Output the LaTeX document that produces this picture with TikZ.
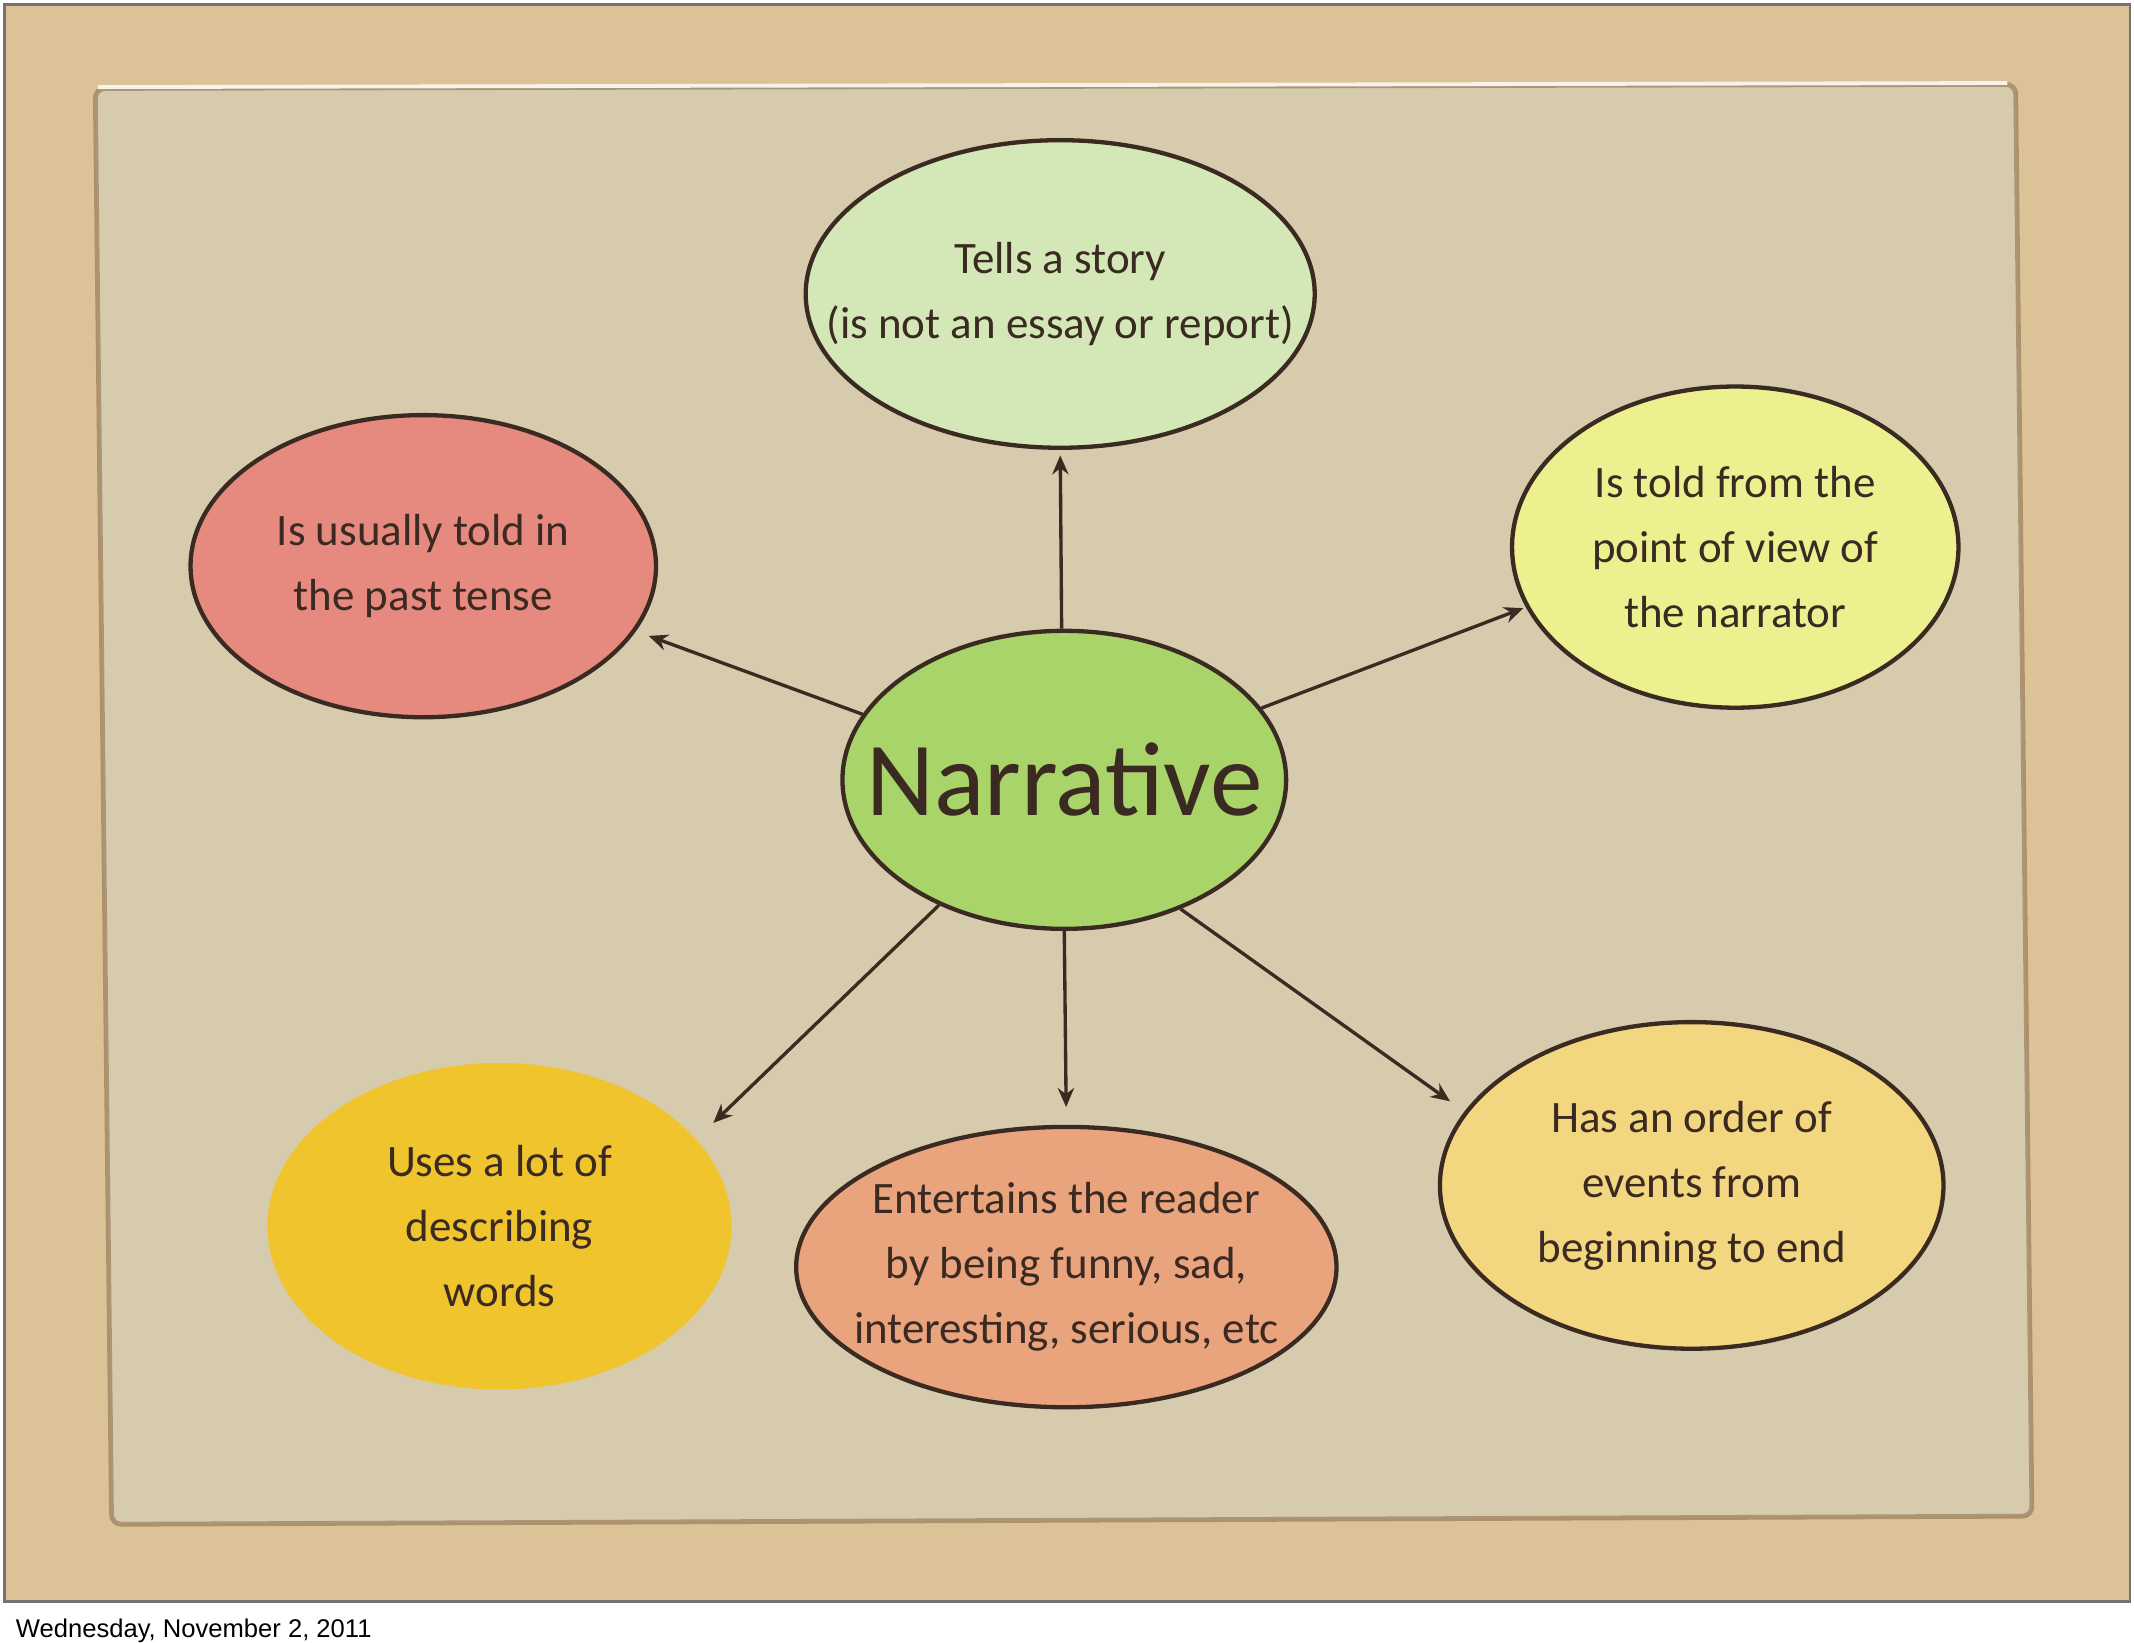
\documentclass[tikz,border=0pt]{standalone}
\usepackage{fontspec}
\usepackage{xcolor}
\usepackage{tikz}
\usetikzlibrary{positioning,calc,shapes.geometric,arrows.meta}
\newfontfamily\handfont{Carlito}
\newfontfamily\datefont{Liberation Sans}
\definecolor{sand}{RGB}{219,195,151}
\definecolor{paper}{RGB}{215,203,174}
\definecolor{inkbrown}{RGB}{58,42,34}
\definecolor{storygreen}{RGB}{211,232,182}
\definecolor{pastred}{RGB}{230,138,128}
\definecolor{viewyellow}{RGB}{237,240,143}
\definecolor{narrgreen}{RGB}{168,212,106}
\definecolor{wordgold}{RGB}{239,196,45}
\definecolor{funsalmon}{RGB}{233,164,126}
\definecolor{orderbuff}{RGB}{242,214,128}

\begin{document}
\begin{tikzpicture}[
					bubble/.style={
						ellipse, draw=inkbrown, line width=0.9pt,
						inner xsep=-8mm, inner ysep=0pt,
						text=inkbrown, align=center,
						font=\handfont\fontsize{9.4}{13.6}\selectfont
					},
					link/.style={
						draw=inkbrown, line width=0.7pt,
						-{Stealth[length=1.4mm,width=1.2mm]}
					}
					]
					% sand board and slip of paper
					\useasboundingbox (0,0) rectangle (15.68,-12.065);
					\fill[white] (0,0) rectangle (15.68,-12.065);
					\draw[fill=sand, draw=black!55, line width=0.6pt] (0.03,-0.03) rectangle (15.65,-11.77);
					\draw[fill=paper, draw=brown!55!black, draw opacity=0.4, line width=1pt, rounded corners=2pt]
						(0.70,-0.65) -- (14.81,-0.62) -- (14.93,-11.14) -- (0.82,-11.20) -- cycle;
					\draw[white!80!sand, line width=0.8pt] (0.72,-0.64) -- (14.75,-0.61);
					
					% centre
					\node[bubble, fill=narrgreen, minimum width=3.26cm, minimum height=2.19cm,
						font=\handfont\fontsize{22}{24}\selectfont] (narr) at (7.82,-5.73) {Narrative};
					
					% top row
					\node[bubble, fill=storygreen, minimum width=3.74cm, minimum height=2.26cm] (story) at (7.79,-2.16)
						{Tells a story\\(is not an essay or report)};
					\node[bubble, fill=pastred, minimum width=3.42cm, minimum height=2.22cm] (past) at (3.11,-4.16)
						{Is usually told in\\the past tense};
					\node[bubble, fill=viewyellow, minimum width=3.28cm, minimum height=2.36cm] (view) at (12.75,-4.02)
						{Is told from the\\point of view of\\the narrator};
					
					% bottom row
					\node[bubble, draw=none, fill=wordgold, minimum width=3.41cm, minimum height=2.40cm] (words) at (3.67,-9.01)
						{Uses a lot of\\describing\\words};
					\node[bubble, fill=funsalmon, minimum width=3.97cm, minimum height=2.06cm] (fun) at (7.835,-9.31)
						{Entertains the reader\\by being funny, sad,\\interesting, serious, etc};
					\node[bubble, fill=orderbuff, minimum width=3.70cm, minimum height=2.40cm] (order) at (12.43,-8.71)
						{Has an order of\\events from\\beginning to end};
					
					% arrows out of the centre
					\draw[link, shorten >=0.4mm] (narr.91) -- (story.south);
					\draw[link, shorten >=1mm] (narr.162) -- (past.-17);
					\draw[link, shorten >=0.2mm] (narr.20) -- (view.196);
					\draw[link, shorten >=1.6mm] (narr.-135) -- (words.24.5);
					\draw[link, shorten >=1.3mm] (narr.south) -- (fun.north);
					\draw[link, shorten >=1.3mm] (narr.-48.5) -- (order.162.7);
					
					% footer
					\node[anchor=base west, inner sep=0pt, font=\datefont\fontsize{5.35}{6}\selectfont] (date) at (0.11,-12.03)
						{Wednesday, November 2, 2011};
				\end{tikzpicture}
\end{document}
